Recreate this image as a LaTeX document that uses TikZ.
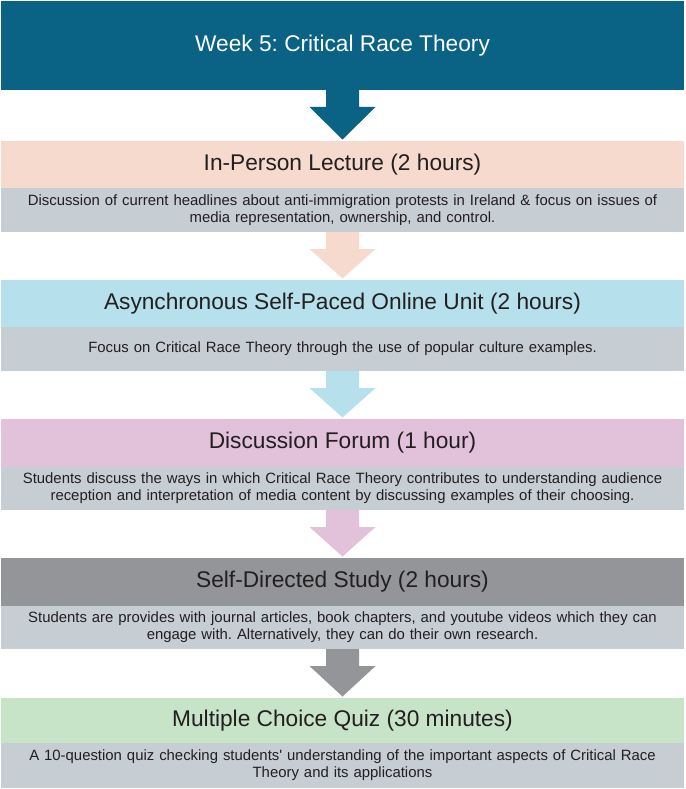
\documentclass[tikz,border=0pt]{standalone}
\usepackage{fontspec}
\setmainfont{Liberation Sans}
\usetikzlibrary{calc}
\definecolor{titleblue}{HTML}{0A6285}
\definecolor{hpink}{HTML}{F5DACD}
\definecolor{hblue}{HTML}{B6E0EB}
\definecolor{hlilac}{HTML}{E2C2DB}
\definecolor{hgray}{HTML}{939598}
\definecolor{hgreen}{HTML}{C7E3C8}
\definecolor{descgray}{HTML}{C6CDD3}
\definecolor{txt}{HTML}{231F20}
\frenchspacing
\newcommand\blockarrow[3]{%
  \fill[#3] ($(#1.south)+(-16.5,0)$) -- ($(#1.south)+(-16.5,17)$) -- ($(#1.south)+(-33,17)$)
    -- ($(#2.north)+(0,-1.5)$) -- ($(#1.south)+(33,17)$) -- ($(#1.south)+(16.5,17)$)
    -- ($(#1.south)+(16.5,0)$) -- cycle;}
\begin{document}
\begin{tikzpicture}[x=1pt,y=-1pt,
  band/.style={rectangle,inner sep=0pt,outer sep=0pt,minimum width=683pt,anchor=north,align=center},
  titlebox/.style={band,fill=titleblue,text=white,font=\fontsize{22.7}{27}\selectfont,minimum height=89pt},
  head/.style={band,text=txt,font=\fontsize{22.7}{27}\selectfont},
  desc/.style={band,fill=descgray,text=txt,font=\fontsize{14.9}{17}\selectfont,text width=683pt}]
\useasboundingbox (0,0) rectangle (685,789);
\fill[white] (0,0) rectangle (685,789);
\node[titlebox] (title) at (342.5,1) {Week 5: Critical Race Theory};
% box 2
\node[head,fill=hpink,minimum height=47pt] (h2) at (342.5,141) {In-Person Lecture (2 hours)};
\node[desc,minimum height=44pt] (d2) at (h2.south) {Discussion of current headlines about anti-immigration protests in Ireland \& focus on issues of\\media representation, ownership, and control.};
% box 3
\node[head,fill=hblue,minimum height=47pt] (h3) at (342.5,280) {Asynchronous Self-Paced Online Unit (2 hours)};
\node[desc,minimum height=44pt] (d3) at (h3.south) {Focus on Critical Race Theory through the use of popular culture examples.};
% box 4
\node[head,fill=hlilac,minimum height=48pt] (h4) at (342.5,419) {Discussion Forum (1 hour)};
\node[desc,minimum height=43pt] (d4) at (h4.south) {Students discuss the ways in which Critical Race Theory contributes to understanding audience\\reception and interpretation of media content by discussing examples of their choosing.};
% box 5
\node[head,fill=hgray,minimum height=48pt] (h5) at (342.5,558) {Self-Directed Study (2 hours)};
\node[desc,minimum height=43pt] (d5) at (h5.south) {Students are provides with journal articles, book chapters, and youtube videos which they can\\engage with. Alternatively, they can do their own research.};
% box 6
\node[head,fill=hgreen,minimum height=45pt] (h6) at (342.5,698) {Multiple Choice Quiz (30 minutes)};
\node[desc,minimum height=45pt] (d6) at (h6.south) {A 10-question quiz checking students\textquotesingle{} understanding of the important aspects of Critical Race\\Theory and its applications};
% arrows
\blockarrow{title}{h2}{titleblue}
\blockarrow{d2}{h3}{hpink}
\blockarrow{d3}{h4}{hblue}
\blockarrow{d4}{h5}{hlilac}
\blockarrow{d5}{h6}{hgray}
\end{tikzpicture}
\end{document}
